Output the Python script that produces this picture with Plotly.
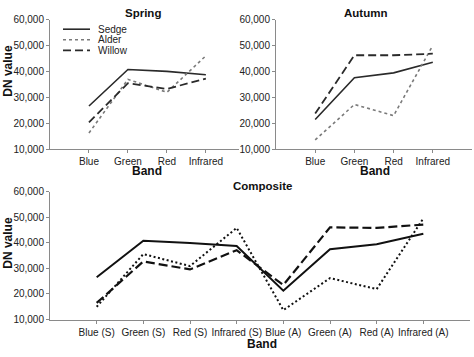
import plotly.graph_objects as go

W, H = 474, 357

bands = ["Blue", "Green", "Red", "Infrared"]
comp_bands = ["Blue (S)", "Green (S)", "Red (S)", "Infrared (S)",
              "Blue (A)", "Green (A)", "Red (A)", "Infrared (A)"]
series_names = ["Sedge", "Alder", "Willow"]

spring_sedge = [26600, 40700, 40000, 38700]
spring_alder = [16200, 36900, 31900, 46000]
spring_willow = [20300, 35400, 33200, 37200]

autumn_sedge = [21400, 37500, 39400, 43500]
autumn_alder = [13500, 27200, 22900, 50000]
autumn_willow = [23700, 46200, 46200, 46800]

comp_sedge = [26500, 40800, 39900, 38700, 21300, 37500, 39400, 43500]
comp_alder = [15000, 35600, 30900, 45800, 13700, 26200, 21900, 49500]
comp_willow = [16500, 32700, 29600, 37100, 23500, 46000, 45800, 47100]

y_ticks = [10000, 20000, 30000, 40000, 50000, 60000]
y_ticktext = ["10,000", "20,000", "30,000", "40,000", "50,000", "60,000"]

FONT = "Liberation Sans, Arial, sans-serif"
TXT = "#222222"
AX = "#8a8a8a"

def px_x(p):
    return p / W

def px_y(p):
    return (H - p) / H

fig = go.Figure()

top_style = {
    "Sedge": dict(color="#2a2a2a", width=1.6, dash="solid"),
    "Alder": dict(color="#7a7a7a", width=1.6, dash="dot"),
    "Willow": dict(color="#2a2a2a", width=1.8, dash="8px,4px"),
}
comp_style = {
    "Sedge": dict(color="#111111", width=2, dash="solid"),
    "Alder": dict(color="#111111", width=2, dash="2px,2.5px"),
    "Willow": dict(color="#111111", width=2.2, dash="9px,4px"),
}

for name, vals in zip(series_names, [spring_sedge, spring_alder, spring_willow]):
    fig.add_trace(go.Scatter(x=bands, y=vals, mode="lines", name=name,
                             line=top_style[name], xaxis="x", yaxis="y",
                             showlegend=False))
for name, vals in zip(series_names, [autumn_sedge, autumn_alder, autumn_willow]):
    fig.add_trace(go.Scatter(x=bands, y=vals, mode="lines", name=name,
                             line=top_style[name], xaxis="x2", yaxis="y2",
                             showlegend=False))
for name, vals in zip(series_names, [comp_sedge, comp_alder, comp_willow]):
    fig.add_trace(go.Scatter(x=comp_bands, y=vals, mode="lines", name=name,
                             line=comp_style[name], xaxis="x3", yaxis="y3",
                             showlegend=False))

def xaxis(domain, rng, anchor):
    return dict(domain=domain, range=rng, anchor=anchor, type="category",
                showline=True, linecolor=AX, linewidth=1, showgrid=False,
                zeroline=False, ticks="outside", ticklen=3, tickcolor=AX,
                tickangle=0,
                tickfont=dict(family=FONT, size=10, color=TXT))

def yaxis(domain, anchor):
    return dict(domain=domain, range=[10000, 60000], anchor=anchor,
                tickvals=y_ticks, ticktext=y_ticktext,
                showline=True, linecolor=AX, linewidth=1, showgrid=False,
                zeroline=False, ticks="outside", ticklen=3, tickcolor=AX,
                tickfont=dict(family=FONT, size=10, color=TXT))

top_dom = [px_y(148), px_y(14)]
comp_dom = [px_y(324.5), px_y(192)]

fig.update_layout(
    width=W, height=H,
    margin=dict(l=0, r=0, t=0, b=0),
    paper_bgcolor="white", plot_bgcolor="white",
    xaxis=xaxis([px_x(50), px_x(239)], [-1, 3.85], "y"),
    yaxis=yaxis(top_dom, "x"),
    xaxis2=xaxis([px_x(276), px_x(472)], [-1, 4], "y2"),
    yaxis2=yaxis(top_dom, "x2"),
    xaxis3=xaxis([px_x(50), px_x(470)], [-1, 8], "y3"),
    yaxis3=yaxis(comp_dom, "x3"),
    showlegend=False,
)

def ann(text, x, y, size=12, bold=True, angle=0, anchor="center"):
    t = f"<b>{text}</b>" if bold else text
    fig.add_annotation(text=t, x=px_x(x), y=px_y(y), xref="paper", yref="paper",
                       showarrow=False, textangle=angle,
                       font=dict(family=FONT, size=size, color="#111111"),
                       xanchor=anchor, yanchor="middle")

ann("Spring", 143, 7, size=11.5)
ann("Autumn", 365, 7, size=11.5)
ann("Composite", 262, 186, size=11.5)
ann("Band", 147, 171, size=12)
ann("Band", 375, 171, size=12)
ann("Band", 262, 350, size=12)
ann("DN value", 8, 67, size=12, angle=-90)
ann("DN value", 8, 245, size=12, angle=-90)

# manual legend (spring panel)
for i, name in enumerate(series_names):
    yy = 24 + i * 11
    st = top_style[name]
    fig.add_shape(type="line", xref="paper", yref="paper",
                  x0=px_x(63), x1=px_x(90), y0=px_y(yy), y1=px_y(yy),
                  line=dict(color=st["color"], width=st["width"], dash=st["dash"]))
    fig.add_annotation(text=name, x=px_x(96), y=px_y(yy), xref="paper", yref="paper",
                       showarrow=False, xanchor="left", yanchor="middle",
                       font=dict(family=FONT, size=10, color=TXT))

fig.write_html("out.html",
               config={"displayModeBar": False},
               post_script="document.body.style.margin='0';document.body.style.overflow='hidden';")
